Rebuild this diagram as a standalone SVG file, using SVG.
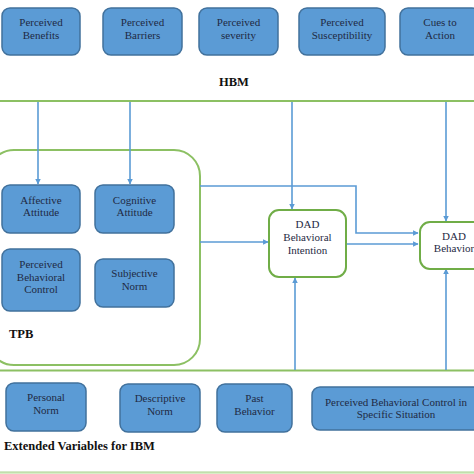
<svg xmlns="http://www.w3.org/2000/svg" width="474" height="474" viewBox="0 0 474 474" font-family="'Liberation Serif', 'Times New Roman', 'DejaVu Serif', serif">
<defs>
<style>
.b{fill:#5b9bd5;stroke:#41719c;stroke-width:1.5}
.g{fill:#fff;stroke:#70ad47;stroke-width:2}
.gl{fill:none;stroke:#8cc063;stroke-width:2}
.c{fill:none;stroke:#5b9bd5;stroke-width:1.6}
text{font-family:'Liberation Serif','Times New Roman','DejaVu Serif',serif;font-size:11px;fill:#1f2a44;text-anchor:middle}
.t{font-weight:bold;font-size:12.5px;fill:#111;text-anchor:start}
</style>
<marker id="a" viewBox="0 0 10 10" refX="9" refY="5" markerWidth="5.5" markerHeight="5.5" orient="auto" markerUnits="userSpaceOnUse">
<path d="M0,0L10,5L0,10z" fill="#5b9bd5"/>
</marker>
</defs>
<rect x="0" y="0" width="474" height="474" fill="#fff"/>
<g id="containers">
<line class="gl" x1="0" y1="101" x2="474" y2="101"/>
<line class="gl" x1="0" y1="370.5" x2="474" y2="370.5"/>
<rect x="0" y="472" width="474" height="2" fill="#d9ecc8"/>
<line x1="0" y1="472" x2="474" y2="472" stroke="#a9d18e" stroke-width="1"/>
<rect class="gl" x="-12" y="150" width="212" height="215" rx="26"/>
</g>
<g id="labels">
<text class="t" x="219" y="86">HBM</text>
<text class="t" x="9" y="338">TPB</text>
<text class="t" x="4" y="450">Extended Variables for IBM</text>
</g>
<g id="connectors">
<line class="c" x1="38" y1="102" x2="38" y2="184" marker-end="url(#a)"/>
<line class="c" x1="130" y1="102" x2="130" y2="184" marker-end="url(#a)"/>
<line class="c" x1="292" y1="102" x2="292" y2="209" marker-end="url(#a)"/>
<line class="c" x1="446" y1="102" x2="446" y2="221" marker-end="url(#a)"/>
<polyline class="c" points="200,186 356,186 356,233 418,233" marker-end="url(#a)"/>
<line class="c" x1="200" y1="242" x2="268" y2="242" marker-end="url(#a)"/>
<line class="c" x1="346" y1="244" x2="418" y2="244" marker-end="url(#a)"/>
<line class="c" x1="295" y1="370" x2="295" y2="278" marker-end="url(#a)"/>
<line class="c" x1="446" y1="370" x2="446" y2="269" marker-end="url(#a)"/>
</g>
<g id="n-benefits"><rect class="b" x="2" y="8" width="78" height="47" rx="8"/><text x="41" y="26">Perceived</text><text x="41" y="39">Benefits</text></g>
<g id="n-barriers"><rect class="b" x="103" y="8" width="79" height="47" rx="8"/><text x="142.5" y="26">Perceived</text><text x="142.5" y="39">Barriers</text></g>
<g id="n-severity"><rect class="b" x="199" y="8" width="79" height="47" rx="8"/><text x="238.5" y="26">Perceived</text><text x="238.5" y="39">severity</text></g>
<g id="n-susceptibility"><rect class="b" x="299" y="8" width="86" height="47" rx="8"/><text x="342" y="26">Perceived</text><text x="342" y="39">Susceptibility</text></g>
<g id="n-cues"><rect class="b" x="400" y="8" width="80" height="47" rx="8"/><text x="440" y="26">Cues to</text><text x="440" y="39">Action</text></g>
<g id="n-affective"><rect class="b" x="2" y="185" width="78" height="48" rx="8"/><text x="41" y="204">Affective</text><text x="41" y="216">Attitude</text></g>
<g id="n-cognitive"><rect class="b" x="95" y="185" width="79" height="48" rx="8"/><text x="134.5" y="204">Cognitive</text><text x="134.5" y="216">Attitude</text></g>
<g id="n-pbc"><rect class="b" x="2" y="249" width="78" height="62" rx="8"/><text x="41" y="268">Perceived</text><text x="41" y="281">Behavioral</text><text x="41" y="293">Control</text></g>
<g id="n-subjective"><rect class="b" x="95" y="259" width="79" height="48" rx="8"/><text x="134.5" y="277">Subjective</text><text x="134.5" y="290">Norm</text></g>
<g id="n-intention"><rect class="g" x="269" y="210" width="77" height="67" rx="10"/><text x="307.5" y="228">DAD</text><text x="307.5" y="241">Behavioral</text><text x="307.5" y="254">Intention</text></g>
<g id="n-behavior"><rect class="g" x="420" y="222" width="70" height="47" rx="10"/><text x="454" y="240">DAD</text><text x="454" y="252">Behavior</text></g>
<g id="n-personal"><rect class="b" x="6" y="383" width="80" height="48" rx="8"/><text x="46" y="401">Personal</text><text x="46" y="414">Norm</text></g>
<g id="n-descriptive"><rect class="b" x="120" y="384" width="80" height="48" rx="8"/><text x="160" y="402">Descriptive</text><text x="160" y="415">Norm</text></g>
<g id="n-past"><rect class="b" x="217" y="384" width="75" height="48" rx="8"/><text x="254.5" y="402">Past</text><text x="254.5" y="415">Behavior</text></g>
<g id="n-pbcs"><rect class="b" x="312" y="387" width="172" height="43" rx="8"/><text x="396" y="406">Perceived Behavioral Control in</text><text x="396" y="418">Specific Situation</text></g>
</svg>
